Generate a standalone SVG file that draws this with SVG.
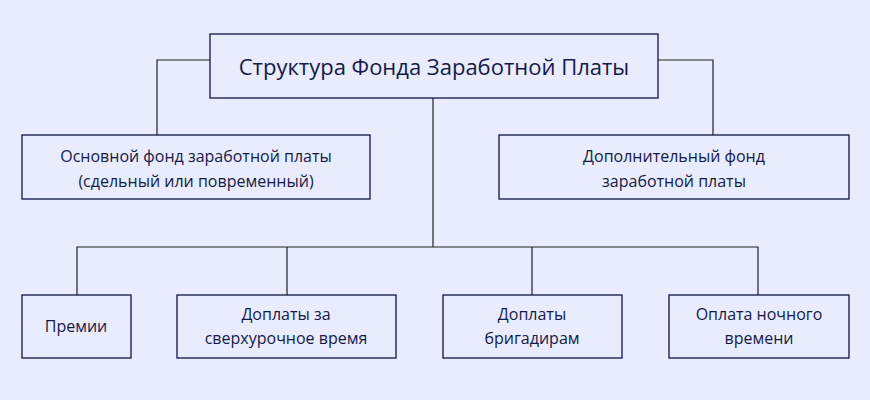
<svg xmlns="http://www.w3.org/2000/svg" width="870" height="400" viewBox="0 0 870 400">
<style>
.b{fill:#E8ECFC;stroke:#0F1446;stroke-width:1.3}
.t{font-family:"Open Sans",sans-serif;font-size:16px;fill:#141A48;text-anchor:middle}
.c{fill:none;stroke:#222;stroke-width:1.2}
</style>
<rect width="870" height="400" fill="#E8ECFC"/>
<g id="connectors" class="c">
<path d="M210 60H157V135M658 60H713V135M433 98V247M77 295V247H758V295M287 247V295M532 247V295"/>
</g>
<g id="root"><rect class="b" x="210" y="34" width="448" height="64"/><text class="t" x="434" y="75" style="font-size:22px">Структура Фонда Заработной Платы</text></g>
<g id="main"><rect class="b" x="22" y="135" width="348" height="64"/><text class="t" x="196" y="162">Основной фонд заработной платы</text><text class="t" x="196" y="187">(сдельный или повременный)</text></g>
<g id="extra"><rect class="b" x="499" y="135" width="350" height="64"/><text class="t" x="674" y="162">Дополнительный фонд</text><text class="t" x="674" y="187">заработной платы</text></g>
<g id="bonus"><rect class="b" x="22" y="295" width="109" height="63"/><text class="t" x="76" y="332">Премии</text></g>
<g id="overtime"><rect class="b" x="177" y="295" width="219" height="63"/><text class="t" x="286" y="320">Доплаты за</text><text class="t" x="286" y="344">сверхурочное время</text></g>
<g id="foremen"><rect class="b" x="443" y="295" width="179" height="63"/><text class="t" x="532" y="320">Доплаты</text><text class="t" x="532" y="344">бригадирам</text></g>
<g id="night"><rect class="b" x="669" y="295" width="180" height="63"/><text class="t" x="759" y="320">Оплата ночного</text><text class="t" x="759" y="344">времени</text></g>
</svg>
